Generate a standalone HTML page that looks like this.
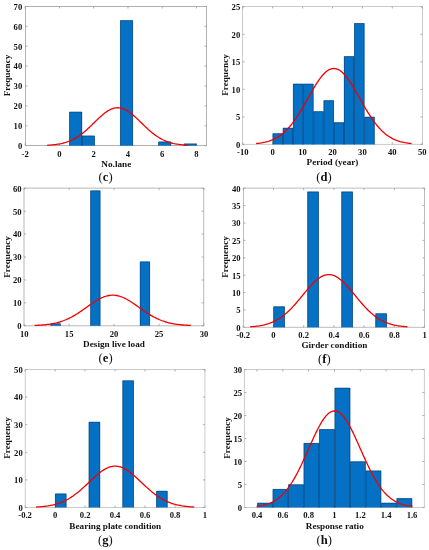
<!DOCTYPE html>
<html><head><meta charset="utf-8"><style>
html,body{margin:0;padding:0;background:#fff;width:429px;height:550px;overflow:hidden;position:relative}
svg{will-change:transform}
.t{font-family:"Liberation Serif",serif;font-weight:bold;fill:#111}
</style></head><body>
<svg width="429" height="550" viewBox="0 0 429 550" style="position:absolute;left:0;top:0">
<rect x="25.5" y="6.5" width="181.00" height="139.00" fill="none" stroke="#b0b0b0" stroke-width="1"/>
<line x1="25.12" y1="145.5" x2="25.12" y2="143.5" stroke="#9a9a9a" stroke-width="0.8"/>
<line x1="25.12" y1="6.5" x2="25.12" y2="8.5" stroke="#9a9a9a" stroke-width="0.8"/>
<line x1="59.40" y1="145.5" x2="59.40" y2="143.5" stroke="#9a9a9a" stroke-width="0.8"/>
<line x1="59.40" y1="6.5" x2="59.40" y2="8.5" stroke="#9a9a9a" stroke-width="0.8"/>
<line x1="93.68" y1="145.5" x2="93.68" y2="143.5" stroke="#9a9a9a" stroke-width="0.8"/>
<line x1="93.68" y1="6.5" x2="93.68" y2="8.5" stroke="#9a9a9a" stroke-width="0.8"/>
<line x1="127.96" y1="145.5" x2="127.96" y2="143.5" stroke="#9a9a9a" stroke-width="0.8"/>
<line x1="127.96" y1="6.5" x2="127.96" y2="8.5" stroke="#9a9a9a" stroke-width="0.8"/>
<line x1="162.24" y1="145.5" x2="162.24" y2="143.5" stroke="#9a9a9a" stroke-width="0.8"/>
<line x1="162.24" y1="6.5" x2="162.24" y2="8.5" stroke="#9a9a9a" stroke-width="0.8"/>
<line x1="196.52" y1="145.5" x2="196.52" y2="143.5" stroke="#9a9a9a" stroke-width="0.8"/>
<line x1="196.52" y1="6.5" x2="196.52" y2="8.5" stroke="#9a9a9a" stroke-width="0.8"/>
<line x1="25.5" y1="145.70" x2="27.5" y2="145.70" stroke="#9a9a9a" stroke-width="0.8"/>
<line x1="206.5" y1="145.70" x2="204.5" y2="145.70" stroke="#9a9a9a" stroke-width="0.8"/>
<line x1="25.5" y1="125.80" x2="27.5" y2="125.80" stroke="#9a9a9a" stroke-width="0.8"/>
<line x1="206.5" y1="125.80" x2="204.5" y2="125.80" stroke="#9a9a9a" stroke-width="0.8"/>
<line x1="25.5" y1="105.90" x2="27.5" y2="105.90" stroke="#9a9a9a" stroke-width="0.8"/>
<line x1="206.5" y1="105.90" x2="204.5" y2="105.90" stroke="#9a9a9a" stroke-width="0.8"/>
<line x1="25.5" y1="86.00" x2="27.5" y2="86.00" stroke="#9a9a9a" stroke-width="0.8"/>
<line x1="206.5" y1="86.00" x2="204.5" y2="86.00" stroke="#9a9a9a" stroke-width="0.8"/>
<line x1="25.5" y1="66.10" x2="27.5" y2="66.10" stroke="#9a9a9a" stroke-width="0.8"/>
<line x1="206.5" y1="66.10" x2="204.5" y2="66.10" stroke="#9a9a9a" stroke-width="0.8"/>
<line x1="25.5" y1="46.20" x2="27.5" y2="46.20" stroke="#9a9a9a" stroke-width="0.8"/>
<line x1="206.5" y1="46.20" x2="204.5" y2="46.20" stroke="#9a9a9a" stroke-width="0.8"/>
<line x1="25.5" y1="26.30" x2="27.5" y2="26.30" stroke="#9a9a9a" stroke-width="0.8"/>
<line x1="206.5" y1="26.30" x2="204.5" y2="26.30" stroke="#9a9a9a" stroke-width="0.8"/>
<line x1="25.5" y1="6.40" x2="27.5" y2="6.40" stroke="#9a9a9a" stroke-width="0.8"/>
<line x1="206.5" y1="6.40" x2="204.5" y2="6.40" stroke="#9a9a9a" stroke-width="0.8"/>
<rect x="69.30" y="111.87" width="12.72" height="33.83" fill="#0571c4"/>
<path d="M69.55,145.70V112.12H81.77V145.70" fill="none" stroke="#062f5a" stroke-width="0.5"/>
<rect x="82.02" y="135.75" width="12.72" height="9.95" fill="#0571c4"/>
<path d="M82.27,145.70V136.00H94.49V145.70" fill="none" stroke="#062f5a" stroke-width="0.5"/>
<rect x="120.18" y="20.33" width="12.72" height="125.37" fill="#0571c4"/>
<path d="M120.43,145.70V20.58H132.65V145.70" fill="none" stroke="#062f5a" stroke-width="0.5"/>
<rect x="158.34" y="141.72" width="12.72" height="3.98" fill="#0571c4"/>
<path d="M158.59,145.70V141.97H170.81V145.70" fill="none" stroke="#062f5a" stroke-width="0.5"/>
<rect x="183.78" y="143.71" width="12.72" height="1.99" fill="#0571c4"/>
<path d="M184.03,145.70V143.96H196.25V145.70" fill="none" stroke="#062f5a" stroke-width="0.5"/>
<polyline points="47.13,145.28 48.30,145.21 49.48,145.13 50.66,145.05 51.83,144.95 53.01,144.83 54.18,144.71 55.36,144.57 56.53,144.41 57.71,144.23 58.89,144.03 60.06,143.81 61.24,143.57 62.41,143.30 63.59,143.00 64.76,142.68 65.94,142.32 67.12,141.94 68.29,141.51 69.47,141.06 70.64,140.56 71.82,140.03 73.00,139.46 74.17,138.84 75.35,138.19 76.52,137.49 77.70,136.75 78.87,135.97 80.05,135.14 81.23,134.28 82.40,133.37 83.58,132.43 84.75,131.45 85.93,130.44 87.11,129.39 88.28,128.32 89.46,127.22 90.63,126.10 91.81,124.97 92.98,123.82 94.16,122.67 95.34,121.52 96.51,120.38 97.69,119.24 98.86,118.13 100.04,117.04 101.21,115.98 102.39,114.96 103.57,113.99 104.74,113.06 105.92,112.19 107.09,111.39 108.27,110.65 109.45,109.99 110.62,109.40 111.80,108.90 112.97,108.49 114.15,108.16 115.32,107.92 116.50,107.78 117.68,107.73 118.85,107.78 120.03,107.92 121.20,108.16 122.38,108.49 123.56,108.90 124.73,109.40 125.91,109.99 127.08,110.65 128.26,111.39 129.43,112.19 130.61,113.06 131.79,113.99 132.96,114.96 134.14,115.98 135.31,117.04 136.49,118.13 137.66,119.24 138.84,120.38 140.02,121.52 141.19,122.67 142.37,123.82 143.54,124.97 144.72,126.10 145.90,127.22 147.07,128.32 148.25,129.39 149.42,130.44 150.60,131.45 151.77,132.43 152.95,133.37 154.13,134.28 155.30,135.14 156.48,135.97 157.65,136.75 158.83,137.49 160.00,138.19 161.18,138.84 162.36,139.46 163.53,140.03 164.71,140.56 165.88,141.06 167.06,141.51 168.24,141.94 169.41,142.32 170.59,142.68 171.76,143.00 172.94,143.30 174.11,143.57 175.29,143.81 176.47,144.03 177.64,144.23 178.82,144.41 179.99,144.57 181.17,144.71 182.35,144.83 183.52,144.95 184.70,145.05 185.87,145.13 187.05,145.21 188.22,145.28" fill="none" stroke="#f00000" stroke-width="1.3" stroke-linejoin="round"/>
<text x="25.12" y="157.2" font-size="8.6" text-anchor="middle" class="t">-2</text>
<text x="59.40" y="157.2" font-size="8.6" text-anchor="middle" class="t">0</text>
<text x="93.68" y="157.2" font-size="8.6" text-anchor="middle" class="t">2</text>
<text x="127.96" y="157.2" font-size="8.6" text-anchor="middle" class="t">4</text>
<text x="162.24" y="157.2" font-size="8.6" text-anchor="middle" class="t">6</text>
<text x="196.52" y="157.2" font-size="8.6" text-anchor="middle" class="t">8</text>
<text x="22.20" y="149.00" font-size="8.6" text-anchor="end" class="t">0</text>
<text x="22.20" y="129.10" font-size="8.6" text-anchor="end" class="t">10</text>
<text x="22.20" y="109.20" font-size="8.6" text-anchor="end" class="t">20</text>
<text x="22.20" y="89.30" font-size="8.6" text-anchor="end" class="t">30</text>
<text x="22.20" y="69.40" font-size="8.6" text-anchor="end" class="t">40</text>
<text x="22.20" y="49.50" font-size="8.6" text-anchor="end" class="t">50</text>
<text x="22.20" y="29.60" font-size="8.6" text-anchor="end" class="t">60</text>
<text x="22.20" y="9.70" font-size="8.6" text-anchor="end" class="t">70</text>
<text x="116.3" y="167.0" font-size="9.2" text-anchor="middle" class="t">No.lane</text>
<text transform="translate(10.3,75.5) rotate(-90)" x="0" y="0" font-size="9.2" text-anchor="middle" class="t">Frequency</text>
<text x="105.6" y="180.6" font-size="12.6" text-anchor="middle" class="t"><tspan font-weight="normal">(</tspan>c<tspan font-weight="normal">)</tspan></text>
<rect x="242.5" y="6.5" width="180.00" height="137.90" fill="none" stroke="#cbcbcb" stroke-width="1"/>
<line x1="242.80" y1="144.4" x2="242.80" y2="142.4" stroke="#9a9a9a" stroke-width="0.8"/>
<line x1="242.80" y1="6.5" x2="242.80" y2="8.5" stroke="#9a9a9a" stroke-width="0.8"/>
<line x1="272.70" y1="144.4" x2="272.70" y2="142.4" stroke="#9a9a9a" stroke-width="0.8"/>
<line x1="272.70" y1="6.5" x2="272.70" y2="8.5" stroke="#9a9a9a" stroke-width="0.8"/>
<line x1="302.60" y1="144.4" x2="302.60" y2="142.4" stroke="#9a9a9a" stroke-width="0.8"/>
<line x1="302.60" y1="6.5" x2="302.60" y2="8.5" stroke="#9a9a9a" stroke-width="0.8"/>
<line x1="332.50" y1="144.4" x2="332.50" y2="142.4" stroke="#9a9a9a" stroke-width="0.8"/>
<line x1="332.50" y1="6.5" x2="332.50" y2="8.5" stroke="#9a9a9a" stroke-width="0.8"/>
<line x1="362.40" y1="144.4" x2="362.40" y2="142.4" stroke="#9a9a9a" stroke-width="0.8"/>
<line x1="362.40" y1="6.5" x2="362.40" y2="8.5" stroke="#9a9a9a" stroke-width="0.8"/>
<line x1="392.30" y1="144.4" x2="392.30" y2="142.4" stroke="#9a9a9a" stroke-width="0.8"/>
<line x1="392.30" y1="6.5" x2="392.30" y2="8.5" stroke="#9a9a9a" stroke-width="0.8"/>
<line x1="422.20" y1="144.4" x2="422.20" y2="142.4" stroke="#9a9a9a" stroke-width="0.8"/>
<line x1="422.20" y1="6.5" x2="422.20" y2="8.5" stroke="#9a9a9a" stroke-width="0.8"/>
<line x1="242.5" y1="144.45" x2="244.5" y2="144.45" stroke="#9a9a9a" stroke-width="0.8"/>
<line x1="422.5" y1="144.45" x2="420.5" y2="144.45" stroke="#9a9a9a" stroke-width="0.8"/>
<line x1="242.5" y1="116.91" x2="244.5" y2="116.91" stroke="#9a9a9a" stroke-width="0.8"/>
<line x1="422.5" y1="116.91" x2="420.5" y2="116.91" stroke="#9a9a9a" stroke-width="0.8"/>
<line x1="242.5" y1="89.37" x2="244.5" y2="89.37" stroke="#9a9a9a" stroke-width="0.8"/>
<line x1="422.5" y1="89.37" x2="420.5" y2="89.37" stroke="#9a9a9a" stroke-width="0.8"/>
<line x1="242.5" y1="61.83" x2="244.5" y2="61.83" stroke="#9a9a9a" stroke-width="0.8"/>
<line x1="422.5" y1="61.83" x2="420.5" y2="61.83" stroke="#9a9a9a" stroke-width="0.8"/>
<line x1="242.5" y1="34.29" x2="244.5" y2="34.29" stroke="#9a9a9a" stroke-width="0.8"/>
<line x1="422.5" y1="34.29" x2="420.5" y2="34.29" stroke="#9a9a9a" stroke-width="0.8"/>
<line x1="242.5" y1="6.75" x2="244.5" y2="6.75" stroke="#9a9a9a" stroke-width="0.8"/>
<line x1="422.5" y1="6.75" x2="420.5" y2="6.75" stroke="#9a9a9a" stroke-width="0.8"/>
<rect x="272.70" y="133.43" width="10.19" height="11.02" fill="#0571c4"/>
<path d="M272.95,144.45V133.68H282.64V144.45" fill="none" stroke="#062f5a" stroke-width="0.5"/>
<rect x="282.89" y="127.93" width="10.19" height="16.52" fill="#0571c4"/>
<path d="M283.14,144.45V128.18H292.83V144.45" fill="none" stroke="#062f5a" stroke-width="0.5"/>
<rect x="293.08" y="83.86" width="10.19" height="60.59" fill="#0571c4"/>
<path d="M293.33,144.45V84.11H303.02V144.45" fill="none" stroke="#062f5a" stroke-width="0.5"/>
<rect x="303.27" y="83.86" width="10.19" height="60.59" fill="#0571c4"/>
<path d="M303.52,144.45V84.11H313.21V144.45" fill="none" stroke="#062f5a" stroke-width="0.5"/>
<rect x="313.46" y="111.40" width="10.19" height="33.05" fill="#0571c4"/>
<path d="M313.71,144.45V111.65H323.40V144.45" fill="none" stroke="#062f5a" stroke-width="0.5"/>
<rect x="323.65" y="100.39" width="10.19" height="44.06" fill="#0571c4"/>
<path d="M323.90,144.45V100.64H333.59V144.45" fill="none" stroke="#062f5a" stroke-width="0.5"/>
<rect x="333.84" y="122.42" width="10.19" height="22.03" fill="#0571c4"/>
<path d="M334.09,144.45V122.67H343.78V144.45" fill="none" stroke="#062f5a" stroke-width="0.5"/>
<rect x="344.03" y="56.32" width="10.19" height="88.13" fill="#0571c4"/>
<path d="M344.28,144.45V56.57H353.97V144.45" fill="none" stroke="#062f5a" stroke-width="0.5"/>
<rect x="354.22" y="23.27" width="10.19" height="121.18" fill="#0571c4"/>
<path d="M354.47,144.45V23.52H364.16V144.45" fill="none" stroke="#062f5a" stroke-width="0.5"/>
<rect x="364.41" y="116.91" width="10.19" height="27.54" fill="#0571c4"/>
<path d="M364.66,144.45V117.16H374.35V144.45" fill="none" stroke="#062f5a" stroke-width="0.5"/>
<polyline points="256.08,143.61 257.37,143.47 258.67,143.32 259.96,143.14 261.26,142.94 262.56,142.72 263.85,142.46 265.15,142.18 266.44,141.86 267.74,141.51 269.04,141.11 270.33,140.67 271.63,140.18 272.93,139.65 274.22,139.05 275.52,138.40 276.81,137.69 278.11,136.91 279.41,136.07 280.70,135.15 282.00,134.16 283.30,133.10 284.59,131.95 285.89,130.72 287.18,129.41 288.48,128.01 289.78,126.53 291.07,124.97 292.37,123.32 293.66,121.59 294.96,119.77 296.26,117.88 297.55,115.92 298.85,113.89 300.15,111.80 301.44,109.65 302.74,107.45 304.03,105.21 305.33,102.94 306.63,100.65 307.92,98.35 309.22,96.04 310.51,93.75 311.81,91.49 313.11,89.26 314.40,87.08 315.70,84.96 317.00,82.91 318.29,80.96 319.59,79.11 320.88,77.37 322.18,75.76 323.48,74.28 324.77,72.96 326.07,71.79 327.36,70.78 328.66,69.95 329.96,69.29 331.25,68.82 332.55,68.54 333.85,68.44 335.14,68.54 336.44,68.82 337.73,69.29 339.03,69.95 340.33,70.78 341.62,71.79 342.92,72.96 344.21,74.28 345.51,75.76 346.81,77.37 348.10,79.11 349.40,80.96 350.70,82.91 351.99,84.96 353.29,87.08 354.58,89.26 355.88,91.49 357.18,93.75 358.47,96.04 359.77,98.35 361.06,100.65 362.36,102.94 363.66,105.21 364.95,107.45 366.25,109.65 367.55,111.80 368.84,113.89 370.14,115.92 371.43,117.88 372.73,119.77 374.03,121.59 375.32,123.32 376.62,124.97 377.92,126.53 379.21,128.01 380.51,129.41 381.80,130.72 383.10,131.95 384.40,133.10 385.69,134.16 386.99,135.15 388.28,136.07 389.58,136.91 390.88,137.69 392.17,138.40 393.47,139.05 394.77,139.65 396.06,140.18 397.36,140.67 398.65,141.11 399.95,141.51 401.25,141.86 402.54,142.18 403.84,142.46 405.13,142.72 406.43,142.94 407.73,143.14 409.02,143.32 410.32,143.47 411.62,143.61" fill="none" stroke="#f00000" stroke-width="1.3" stroke-linejoin="round"/>
<text x="242.80" y="155.3" font-size="8.6" text-anchor="middle" class="t">-10</text>
<text x="272.70" y="155.3" font-size="8.6" text-anchor="middle" class="t">0</text>
<text x="302.60" y="155.3" font-size="8.6" text-anchor="middle" class="t">10</text>
<text x="332.50" y="155.3" font-size="8.6" text-anchor="middle" class="t">20</text>
<text x="362.40" y="155.3" font-size="8.6" text-anchor="middle" class="t">30</text>
<text x="392.30" y="155.3" font-size="8.6" text-anchor="middle" class="t">40</text>
<text x="422.20" y="155.3" font-size="8.6" text-anchor="middle" class="t">50</text>
<text x="240.20" y="147.75" font-size="8.6" text-anchor="end" class="t">0</text>
<text x="240.20" y="120.21" font-size="8.6" text-anchor="end" class="t">5</text>
<text x="240.20" y="92.67" font-size="8.6" text-anchor="end" class="t">10</text>
<text x="240.20" y="65.13" font-size="8.6" text-anchor="end" class="t">15</text>
<text x="240.20" y="37.59" font-size="8.6" text-anchor="end" class="t">20</text>
<text x="240.20" y="10.05" font-size="8.6" text-anchor="end" class="t">25</text>
<text x="332.5" y="165.3" font-size="9.2" text-anchor="middle" class="t">Period (year)</text>
<text transform="translate(228,75) rotate(-90)" x="0" y="0" font-size="9.2" text-anchor="middle" class="t">Frequency</text>
<text x="324" y="181" font-size="12.6" text-anchor="middle" class="t"><tspan font-weight="normal">(</tspan>d<tspan font-weight="normal">)</tspan></text>
<rect x="24.0" y="188.1" width="179.70" height="137.70" fill="none" stroke="#b8b8b8" stroke-width="1"/>
<line x1="24.20" y1="325.8" x2="24.20" y2="323.8" stroke="#9a9a9a" stroke-width="0.8"/>
<line x1="24.20" y1="188.1" x2="24.20" y2="190.1" stroke="#9a9a9a" stroke-width="0.8"/>
<line x1="69.15" y1="325.8" x2="69.15" y2="323.8" stroke="#9a9a9a" stroke-width="0.8"/>
<line x1="69.15" y1="188.1" x2="69.15" y2="190.1" stroke="#9a9a9a" stroke-width="0.8"/>
<line x1="114.10" y1="325.8" x2="114.10" y2="323.8" stroke="#9a9a9a" stroke-width="0.8"/>
<line x1="114.10" y1="188.1" x2="114.10" y2="190.1" stroke="#9a9a9a" stroke-width="0.8"/>
<line x1="159.05" y1="325.8" x2="159.05" y2="323.8" stroke="#9a9a9a" stroke-width="0.8"/>
<line x1="159.05" y1="188.1" x2="159.05" y2="190.1" stroke="#9a9a9a" stroke-width="0.8"/>
<line x1="204.00" y1="325.8" x2="204.00" y2="323.8" stroke="#9a9a9a" stroke-width="0.8"/>
<line x1="204.00" y1="188.1" x2="204.00" y2="190.1" stroke="#9a9a9a" stroke-width="0.8"/>
<line x1="24.0" y1="325.80" x2="26.0" y2="325.80" stroke="#9a9a9a" stroke-width="0.8"/>
<line x1="203.7" y1="325.80" x2="201.7" y2="325.80" stroke="#9a9a9a" stroke-width="0.8"/>
<line x1="24.0" y1="302.88" x2="26.0" y2="302.88" stroke="#9a9a9a" stroke-width="0.8"/>
<line x1="203.7" y1="302.88" x2="201.7" y2="302.88" stroke="#9a9a9a" stroke-width="0.8"/>
<line x1="24.0" y1="279.97" x2="26.0" y2="279.97" stroke="#9a9a9a" stroke-width="0.8"/>
<line x1="203.7" y1="279.97" x2="201.7" y2="279.97" stroke="#9a9a9a" stroke-width="0.8"/>
<line x1="24.0" y1="257.05" x2="26.0" y2="257.05" stroke="#9a9a9a" stroke-width="0.8"/>
<line x1="203.7" y1="257.05" x2="201.7" y2="257.05" stroke="#9a9a9a" stroke-width="0.8"/>
<line x1="24.0" y1="234.13" x2="26.0" y2="234.13" stroke="#9a9a9a" stroke-width="0.8"/>
<line x1="203.7" y1="234.13" x2="201.7" y2="234.13" stroke="#9a9a9a" stroke-width="0.8"/>
<line x1="24.0" y1="211.22" x2="26.0" y2="211.22" stroke="#9a9a9a" stroke-width="0.8"/>
<line x1="203.7" y1="211.22" x2="201.7" y2="211.22" stroke="#9a9a9a" stroke-width="0.8"/>
<line x1="24.0" y1="188.30" x2="26.0" y2="188.30" stroke="#9a9a9a" stroke-width="0.8"/>
<line x1="203.7" y1="188.30" x2="201.7" y2="188.30" stroke="#9a9a9a" stroke-width="0.8"/>
<rect x="50.70" y="323.51" width="9.92" height="2.29" fill="#0571c4"/>
<path d="M50.95,325.80V323.76H60.37V325.80" fill="none" stroke="#062f5a" stroke-width="0.5"/>
<rect x="90.38" y="190.59" width="9.92" height="135.21" fill="#0571c4"/>
<path d="M90.63,325.80V190.84H100.05V325.80" fill="none" stroke="#062f5a" stroke-width="0.5"/>
<rect x="139.98" y="261.63" width="9.92" height="64.17" fill="#0571c4"/>
<path d="M140.23,325.80V261.88H149.65V325.80" fill="none" stroke="#062f5a" stroke-width="0.5"/>
<polyline points="34.62,325.46 35.92,325.40 37.22,325.34 38.53,325.27 39.83,325.19 41.13,325.10 42.43,325.00 43.73,324.88 45.04,324.76 46.34,324.61 47.64,324.45 48.94,324.28 50.25,324.08 51.55,323.86 52.85,323.62 54.15,323.36 55.45,323.07 56.76,322.76 58.06,322.42 59.36,322.05 60.66,321.65 61.97,321.22 63.27,320.76 64.57,320.26 65.87,319.74 67.17,319.17 68.48,318.58 69.78,317.94 71.08,317.28 72.38,316.58 73.69,315.85 74.99,315.09 76.29,314.30 77.59,313.48 78.89,312.64 80.20,311.77 81.50,310.88 82.80,309.98 84.10,309.07 85.41,308.14 86.71,307.21 88.01,306.28 89.31,305.36 90.61,304.45 91.92,303.55 93.22,302.67 94.52,301.81 95.82,300.99 97.13,300.20 98.43,299.46 99.73,298.76 101.03,298.11 102.33,297.51 103.64,296.98 104.94,296.50 106.24,296.10 107.54,295.76 108.84,295.50 110.15,295.31 111.45,295.19 112.75,295.15 114.05,295.19 115.36,295.31 116.66,295.50 117.96,295.76 119.26,296.10 120.56,296.50 121.87,296.98 123.17,297.51 124.47,298.11 125.77,298.76 127.08,299.46 128.38,300.20 129.68,300.99 130.98,301.81 132.28,302.67 133.59,303.55 134.89,304.45 136.19,305.36 137.49,306.28 138.80,307.21 140.10,308.14 141.40,309.07 142.70,309.98 144.00,310.88 145.31,311.77 146.61,312.64 147.91,313.48 149.21,314.30 150.52,315.09 151.82,315.85 153.12,316.58 154.42,317.28 155.72,317.94 157.03,318.58 158.33,319.17 159.63,319.74 160.93,320.26 162.24,320.76 163.54,321.22 164.84,321.65 166.14,322.05 167.44,322.42 168.75,322.76 170.05,323.07 171.35,323.36 172.65,323.62 173.95,323.86 175.26,324.08 176.56,324.28 177.86,324.45 179.16,324.61 180.47,324.76 181.77,324.88 183.07,325.00 184.37,325.10 185.67,325.19 186.98,325.27 188.28,325.34 189.58,325.40 190.88,325.46" fill="none" stroke="#f00000" stroke-width="1.3" stroke-linejoin="round"/>
<text x="24.20" y="336.9" font-size="8.6" text-anchor="middle" class="t">10</text>
<text x="69.15" y="336.9" font-size="8.6" text-anchor="middle" class="t">15</text>
<text x="114.10" y="336.9" font-size="8.6" text-anchor="middle" class="t">20</text>
<text x="159.05" y="336.9" font-size="8.6" text-anchor="middle" class="t">25</text>
<text x="204.00" y="336.9" font-size="8.6" text-anchor="middle" class="t">30</text>
<text x="21.50" y="329.10" font-size="8.6" text-anchor="end" class="t">0</text>
<text x="21.50" y="306.18" font-size="8.6" text-anchor="end" class="t">10</text>
<text x="21.50" y="283.27" font-size="8.6" text-anchor="end" class="t">20</text>
<text x="21.50" y="260.35" font-size="8.6" text-anchor="end" class="t">30</text>
<text x="21.50" y="237.43" font-size="8.6" text-anchor="end" class="t">40</text>
<text x="21.50" y="214.52" font-size="8.6" text-anchor="end" class="t">50</text>
<text x="21.50" y="191.60" font-size="8.6" text-anchor="end" class="t">60</text>
<text x="114" y="347.2" font-size="9.2" text-anchor="middle" class="t">Design live load</text>
<text transform="translate(9.5,257) rotate(-90)" x="0" y="0" font-size="9.2" text-anchor="middle" class="t">Frequency</text>
<text x="105.6" y="362" font-size="12.6" text-anchor="middle" class="t"><tspan font-weight="normal">(</tspan>e<tspan font-weight="normal">)</tspan></text>
<rect x="243.5" y="188.1" width="181.00" height="139.20" fill="none" stroke="#bcbcbc" stroke-width="1"/>
<line x1="243.16" y1="327.3" x2="243.16" y2="325.3" stroke="#9a9a9a" stroke-width="0.8"/>
<line x1="243.16" y1="188.1" x2="243.16" y2="190.1" stroke="#9a9a9a" stroke-width="0.8"/>
<line x1="273.40" y1="327.3" x2="273.40" y2="325.3" stroke="#9a9a9a" stroke-width="0.8"/>
<line x1="273.40" y1="188.1" x2="273.40" y2="190.1" stroke="#9a9a9a" stroke-width="0.8"/>
<line x1="303.64" y1="327.3" x2="303.64" y2="325.3" stroke="#9a9a9a" stroke-width="0.8"/>
<line x1="303.64" y1="188.1" x2="303.64" y2="190.1" stroke="#9a9a9a" stroke-width="0.8"/>
<line x1="333.88" y1="327.3" x2="333.88" y2="325.3" stroke="#9a9a9a" stroke-width="0.8"/>
<line x1="333.88" y1="188.1" x2="333.88" y2="190.1" stroke="#9a9a9a" stroke-width="0.8"/>
<line x1="364.12" y1="327.3" x2="364.12" y2="325.3" stroke="#9a9a9a" stroke-width="0.8"/>
<line x1="364.12" y1="188.1" x2="364.12" y2="190.1" stroke="#9a9a9a" stroke-width="0.8"/>
<line x1="394.36" y1="327.3" x2="394.36" y2="325.3" stroke="#9a9a9a" stroke-width="0.8"/>
<line x1="394.36" y1="188.1" x2="394.36" y2="190.1" stroke="#9a9a9a" stroke-width="0.8"/>
<line x1="424.60" y1="327.3" x2="424.60" y2="325.3" stroke="#9a9a9a" stroke-width="0.8"/>
<line x1="424.60" y1="188.1" x2="424.60" y2="190.1" stroke="#9a9a9a" stroke-width="0.8"/>
<line x1="243.5" y1="327.40" x2="245.5" y2="327.40" stroke="#9a9a9a" stroke-width="0.8"/>
<line x1="424.5" y1="327.40" x2="422.5" y2="327.40" stroke="#9a9a9a" stroke-width="0.8"/>
<line x1="243.5" y1="310.00" x2="245.5" y2="310.00" stroke="#9a9a9a" stroke-width="0.8"/>
<line x1="424.5" y1="310.00" x2="422.5" y2="310.00" stroke="#9a9a9a" stroke-width="0.8"/>
<line x1="243.5" y1="292.60" x2="245.5" y2="292.60" stroke="#9a9a9a" stroke-width="0.8"/>
<line x1="424.5" y1="292.60" x2="422.5" y2="292.60" stroke="#9a9a9a" stroke-width="0.8"/>
<line x1="243.5" y1="275.20" x2="245.5" y2="275.20" stroke="#9a9a9a" stroke-width="0.8"/>
<line x1="424.5" y1="275.20" x2="422.5" y2="275.20" stroke="#9a9a9a" stroke-width="0.8"/>
<line x1="243.5" y1="257.80" x2="245.5" y2="257.80" stroke="#9a9a9a" stroke-width="0.8"/>
<line x1="424.5" y1="257.80" x2="422.5" y2="257.80" stroke="#9a9a9a" stroke-width="0.8"/>
<line x1="243.5" y1="240.40" x2="245.5" y2="240.40" stroke="#9a9a9a" stroke-width="0.8"/>
<line x1="424.5" y1="240.40" x2="422.5" y2="240.40" stroke="#9a9a9a" stroke-width="0.8"/>
<line x1="243.5" y1="223.00" x2="245.5" y2="223.00" stroke="#9a9a9a" stroke-width="0.8"/>
<line x1="424.5" y1="223.00" x2="422.5" y2="223.00" stroke="#9a9a9a" stroke-width="0.8"/>
<line x1="243.5" y1="205.60" x2="245.5" y2="205.60" stroke="#9a9a9a" stroke-width="0.8"/>
<line x1="424.5" y1="205.60" x2="422.5" y2="205.60" stroke="#9a9a9a" stroke-width="0.8"/>
<line x1="243.5" y1="188.20" x2="245.5" y2="188.20" stroke="#9a9a9a" stroke-width="0.8"/>
<line x1="424.5" y1="188.20" x2="422.5" y2="188.20" stroke="#9a9a9a" stroke-width="0.8"/>
<rect x="273.40" y="306.52" width="11.34" height="20.88" fill="#0571c4"/>
<path d="M273.65,327.40V306.77H284.49V327.40" fill="none" stroke="#062f5a" stroke-width="0.5"/>
<rect x="307.42" y="191.68" width="11.34" height="135.72" fill="#0571c4"/>
<path d="M307.67,327.40V191.93H318.51V327.40" fill="none" stroke="#062f5a" stroke-width="0.5"/>
<rect x="341.44" y="191.68" width="11.34" height="135.72" fill="#0571c4"/>
<path d="M341.69,327.40V191.93H352.53V327.40" fill="none" stroke="#062f5a" stroke-width="0.5"/>
<rect x="375.46" y="313.48" width="11.34" height="13.92" fill="#0571c4"/>
<path d="M375.71,327.40V313.73H386.55V327.40" fill="none" stroke="#062f5a" stroke-width="0.5"/>
<polyline points="250.12,326.81 251.43,326.72 252.74,326.61 254.05,326.49 255.36,326.35 256.67,326.20 257.99,326.02 259.30,325.82 260.61,325.60 261.92,325.35 263.23,325.08 264.54,324.77 265.86,324.44 267.17,324.06 268.48,323.65 269.79,323.20 271.10,322.70 272.41,322.16 273.73,321.58 275.04,320.94 276.35,320.25 277.66,319.51 278.97,318.71 280.28,317.86 281.60,316.95 282.91,315.98 284.22,314.95 285.53,313.86 286.84,312.72 288.15,311.51 289.46,310.25 290.78,308.94 292.09,307.58 293.40,306.17 294.71,304.71 296.02,303.22 297.33,301.69 298.65,300.14 299.96,298.56 301.27,296.97 302.58,295.37 303.89,293.77 305.20,292.18 306.52,290.60 307.83,289.05 309.14,287.54 310.45,286.06 311.76,284.64 313.07,283.29 314.39,282.00 315.70,280.79 317.01,279.67 318.32,278.65 319.63,277.73 320.94,276.91 322.26,276.21 323.57,275.63 324.88,275.18 326.19,274.85 327.50,274.65 328.81,274.59 330.13,274.65 331.44,274.85 332.75,275.18 334.06,275.63 335.37,276.21 336.68,276.91 338.00,277.73 339.31,278.65 340.62,279.67 341.93,280.79 343.24,282.00 344.55,283.29 345.87,284.64 347.18,286.06 348.49,287.54 349.80,289.05 351.11,290.60 352.42,292.18 353.74,293.77 355.05,295.37 356.36,296.97 357.67,298.56 358.98,300.14 360.29,301.69 361.61,303.22 362.92,304.71 364.23,306.17 365.54,307.58 366.85,308.94 368.16,310.25 369.48,311.51 370.79,312.72 372.10,313.86 373.41,314.95 374.72,315.98 376.03,316.95 377.35,317.86 378.66,318.71 379.97,319.51 381.28,320.25 382.59,320.94 383.90,321.58 385.22,322.16 386.53,322.70 387.84,323.20 389.15,323.65 390.46,324.06 391.77,324.44 393.09,324.77 394.40,325.08 395.71,325.35 397.02,325.60 398.33,325.82 399.64,326.02 400.96,326.20 402.27,326.35 403.58,326.49 404.89,326.61 406.20,326.72 407.51,326.81" fill="none" stroke="#f00000" stroke-width="1.3" stroke-linejoin="round"/>
<text x="243.16" y="338.3" font-size="8.6" text-anchor="middle" class="t">-0.2</text>
<text x="273.40" y="338.3" font-size="8.6" text-anchor="middle" class="t">0</text>
<text x="303.64" y="338.3" font-size="8.6" text-anchor="middle" class="t">0.2</text>
<text x="333.88" y="338.3" font-size="8.6" text-anchor="middle" class="t">0.4</text>
<text x="364.12" y="338.3" font-size="8.6" text-anchor="middle" class="t">0.6</text>
<text x="394.36" y="338.3" font-size="8.6" text-anchor="middle" class="t">0.8</text>
<text x="424.60" y="338.3" font-size="8.6" text-anchor="middle" class="t">1</text>
<text x="240.60" y="330.70" font-size="8.6" text-anchor="end" class="t">0</text>
<text x="240.60" y="313.30" font-size="8.6" text-anchor="end" class="t">5</text>
<text x="240.60" y="295.90" font-size="8.6" text-anchor="end" class="t">10</text>
<text x="240.60" y="278.50" font-size="8.6" text-anchor="end" class="t">15</text>
<text x="240.60" y="261.10" font-size="8.6" text-anchor="end" class="t">20</text>
<text x="240.60" y="243.70" font-size="8.6" text-anchor="end" class="t">25</text>
<text x="240.60" y="226.30" font-size="8.6" text-anchor="end" class="t">30</text>
<text x="240.60" y="208.90" font-size="8.6" text-anchor="end" class="t">35</text>
<text x="240.60" y="191.50" font-size="8.6" text-anchor="end" class="t">40</text>
<text x="334.4" y="347.9" font-size="9.2" text-anchor="middle" class="t">Girder condition</text>
<text transform="translate(228.4,257) rotate(-90)" x="0" y="0" font-size="9.2" text-anchor="middle" class="t">Frequency</text>
<text x="324.4" y="363.3" font-size="12.6" text-anchor="middle" class="t"><tspan font-weight="normal">(</tspan>f<tspan font-weight="normal">)</tspan></text>
<rect x="25.3" y="369.5" width="179.60" height="138.00" fill="none" stroke="#cbcbcb" stroke-width="1"/>
<line x1="25.12" y1="507.5" x2="25.12" y2="505.5" stroke="#9a9a9a" stroke-width="0.8"/>
<line x1="25.12" y1="369.5" x2="25.12" y2="371.5" stroke="#9a9a9a" stroke-width="0.8"/>
<line x1="55.10" y1="507.5" x2="55.10" y2="505.5" stroke="#9a9a9a" stroke-width="0.8"/>
<line x1="55.10" y1="369.5" x2="55.10" y2="371.5" stroke="#9a9a9a" stroke-width="0.8"/>
<line x1="85.08" y1="507.5" x2="85.08" y2="505.5" stroke="#9a9a9a" stroke-width="0.8"/>
<line x1="85.08" y1="369.5" x2="85.08" y2="371.5" stroke="#9a9a9a" stroke-width="0.8"/>
<line x1="115.06" y1="507.5" x2="115.06" y2="505.5" stroke="#9a9a9a" stroke-width="0.8"/>
<line x1="115.06" y1="369.5" x2="115.06" y2="371.5" stroke="#9a9a9a" stroke-width="0.8"/>
<line x1="145.04" y1="507.5" x2="145.04" y2="505.5" stroke="#9a9a9a" stroke-width="0.8"/>
<line x1="145.04" y1="369.5" x2="145.04" y2="371.5" stroke="#9a9a9a" stroke-width="0.8"/>
<line x1="175.02" y1="507.5" x2="175.02" y2="505.5" stroke="#9a9a9a" stroke-width="0.8"/>
<line x1="175.02" y1="369.5" x2="175.02" y2="371.5" stroke="#9a9a9a" stroke-width="0.8"/>
<line x1="205.00" y1="507.5" x2="205.00" y2="505.5" stroke="#9a9a9a" stroke-width="0.8"/>
<line x1="205.00" y1="369.5" x2="205.00" y2="371.5" stroke="#9a9a9a" stroke-width="0.8"/>
<line x1="25.3" y1="507.50" x2="27.3" y2="507.50" stroke="#9a9a9a" stroke-width="0.8"/>
<line x1="204.9" y1="507.50" x2="202.9" y2="507.50" stroke="#9a9a9a" stroke-width="0.8"/>
<line x1="25.3" y1="479.90" x2="27.3" y2="479.90" stroke="#9a9a9a" stroke-width="0.8"/>
<line x1="204.9" y1="479.90" x2="202.9" y2="479.90" stroke="#9a9a9a" stroke-width="0.8"/>
<line x1="25.3" y1="452.30" x2="27.3" y2="452.30" stroke="#9a9a9a" stroke-width="0.8"/>
<line x1="204.9" y1="452.30" x2="202.9" y2="452.30" stroke="#9a9a9a" stroke-width="0.8"/>
<line x1="25.3" y1="424.70" x2="27.3" y2="424.70" stroke="#9a9a9a" stroke-width="0.8"/>
<line x1="204.9" y1="424.70" x2="202.9" y2="424.70" stroke="#9a9a9a" stroke-width="0.8"/>
<line x1="25.3" y1="397.10" x2="27.3" y2="397.10" stroke="#9a9a9a" stroke-width="0.8"/>
<line x1="204.9" y1="397.10" x2="202.9" y2="397.10" stroke="#9a9a9a" stroke-width="0.8"/>
<line x1="25.3" y1="369.50" x2="27.3" y2="369.50" stroke="#9a9a9a" stroke-width="0.8"/>
<line x1="204.9" y1="369.50" x2="202.9" y2="369.50" stroke="#9a9a9a" stroke-width="0.8"/>
<rect x="55.10" y="493.70" width="11.24" height="13.80" fill="#0571c4"/>
<path d="M55.35,507.50V493.95H66.09V507.50" fill="none" stroke="#062f5a" stroke-width="0.5"/>
<rect x="88.82" y="421.94" width="11.24" height="85.56" fill="#0571c4"/>
<path d="M89.07,507.50V422.19H99.81V507.50" fill="none" stroke="#062f5a" stroke-width="0.5"/>
<rect x="122.54" y="380.54" width="11.24" height="126.96" fill="#0571c4"/>
<path d="M122.79,507.50V380.79H133.53V507.50" fill="none" stroke="#062f5a" stroke-width="0.5"/>
<rect x="156.26" y="490.94" width="11.24" height="16.56" fill="#0571c4"/>
<path d="M156.51,507.50V491.19H167.25V507.50" fill="none" stroke="#062f5a" stroke-width="0.5"/>
<polyline points="36.09,507.04 37.41,506.97 38.73,506.88 40.05,506.79 41.36,506.68 42.68,506.56 44.00,506.42 45.32,506.27 46.63,506.09 47.95,505.90 49.27,505.68 50.59,505.44 51.90,505.18 53.22,504.89 54.54,504.56 55.86,504.21 57.17,503.82 58.49,503.40 59.81,502.94 61.13,502.44 62.45,501.91 63.76,501.32 65.08,500.70 66.40,500.03 67.72,499.32 69.03,498.56 70.35,497.75 71.67,496.90 72.99,496.01 74.30,495.06 75.62,494.08 76.94,493.05 78.26,491.99 79.57,490.88 80.89,489.74 82.21,488.57 83.53,487.38 84.84,486.16 86.16,484.93 87.48,483.68 88.80,482.43 90.12,481.17 91.43,479.93 92.75,478.70 94.07,477.48 95.39,476.30 96.70,475.14 98.02,474.03 99.34,472.97 100.66,471.96 101.97,471.02 103.29,470.14 104.61,469.34 105.93,468.62 107.24,467.98 108.56,467.43 109.88,466.98 111.20,466.62 112.51,466.37 113.83,466.21 115.15,466.16 116.47,466.21 117.79,466.37 119.10,466.62 120.42,466.98 121.74,467.43 123.06,467.98 124.37,468.62 125.69,469.34 127.01,470.14 128.33,471.02 129.64,471.96 130.96,472.97 132.28,474.03 133.60,475.14 134.91,476.30 136.23,477.48 137.55,478.70 138.87,479.93 140.18,481.17 141.50,482.43 142.82,483.68 144.14,484.93 145.46,486.16 146.77,487.38 148.09,488.57 149.41,489.74 150.73,490.88 152.04,491.99 153.36,493.05 154.68,494.08 156.00,495.06 157.31,496.01 158.63,496.90 159.95,497.75 161.27,498.56 162.58,499.32 163.90,500.03 165.22,500.70 166.54,501.32 167.85,501.91 169.17,502.44 170.49,502.94 171.81,503.40 173.13,503.82 174.44,504.21 175.76,504.56 177.08,504.89 178.40,505.18 179.71,505.44 181.03,505.68 182.35,505.90 183.67,506.09 184.98,506.27 186.30,506.42 187.62,506.56 188.94,506.68 190.25,506.79 191.57,506.88 192.89,506.97 194.21,507.04" fill="none" stroke="#f00000" stroke-width="1.3" stroke-linejoin="round"/>
<text x="25.12" y="518.3" font-size="8.6" text-anchor="middle" class="t">-0.2</text>
<text x="55.10" y="518.3" font-size="8.6" text-anchor="middle" class="t">0</text>
<text x="85.08" y="518.3" font-size="8.6" text-anchor="middle" class="t">0.2</text>
<text x="115.06" y="518.3" font-size="8.6" text-anchor="middle" class="t">0.4</text>
<text x="145.04" y="518.3" font-size="8.6" text-anchor="middle" class="t">0.6</text>
<text x="175.02" y="518.3" font-size="8.6" text-anchor="middle" class="t">0.8</text>
<text x="205.00" y="518.3" font-size="8.6" text-anchor="middle" class="t">1</text>
<text x="22.70" y="510.80" font-size="8.6" text-anchor="end" class="t">0</text>
<text x="22.70" y="483.20" font-size="8.6" text-anchor="end" class="t">10</text>
<text x="22.70" y="455.60" font-size="8.6" text-anchor="end" class="t">20</text>
<text x="22.70" y="428.00" font-size="8.6" text-anchor="end" class="t">30</text>
<text x="22.70" y="400.40" font-size="8.6" text-anchor="end" class="t">40</text>
<text x="22.70" y="372.80" font-size="8.6" text-anchor="end" class="t">50</text>
<text x="115.3" y="528.9" font-size="9.2" text-anchor="middle" class="t">Bearing plate condition</text>
<text transform="translate(10,438) rotate(-90)" x="0" y="0" font-size="9.2" text-anchor="middle" class="t">Frequency</text>
<text x="105.4" y="544.2" font-size="12.6" text-anchor="middle" class="t"><tspan font-weight="normal">(</tspan>g<tspan font-weight="normal">)</tspan></text>
<rect x="244.4" y="369.5" width="180.00" height="138.00" fill="none" stroke="#cbcbcb" stroke-width="1"/>
<line x1="257.00" y1="507.5" x2="257.00" y2="505.5" stroke="#9a9a9a" stroke-width="0.8"/>
<line x1="257.00" y1="369.5" x2="257.00" y2="371.5" stroke="#9a9a9a" stroke-width="0.8"/>
<line x1="282.83" y1="507.5" x2="282.83" y2="505.5" stroke="#9a9a9a" stroke-width="0.8"/>
<line x1="282.83" y1="369.5" x2="282.83" y2="371.5" stroke="#9a9a9a" stroke-width="0.8"/>
<line x1="308.67" y1="507.5" x2="308.67" y2="505.5" stroke="#9a9a9a" stroke-width="0.8"/>
<line x1="308.67" y1="369.5" x2="308.67" y2="371.5" stroke="#9a9a9a" stroke-width="0.8"/>
<line x1="334.50" y1="507.5" x2="334.50" y2="505.5" stroke="#9a9a9a" stroke-width="0.8"/>
<line x1="334.50" y1="369.5" x2="334.50" y2="371.5" stroke="#9a9a9a" stroke-width="0.8"/>
<line x1="360.34" y1="507.5" x2="360.34" y2="505.5" stroke="#9a9a9a" stroke-width="0.8"/>
<line x1="360.34" y1="369.5" x2="360.34" y2="371.5" stroke="#9a9a9a" stroke-width="0.8"/>
<line x1="386.17" y1="507.5" x2="386.17" y2="505.5" stroke="#9a9a9a" stroke-width="0.8"/>
<line x1="386.17" y1="369.5" x2="386.17" y2="371.5" stroke="#9a9a9a" stroke-width="0.8"/>
<line x1="412.00" y1="507.5" x2="412.00" y2="505.5" stroke="#9a9a9a" stroke-width="0.8"/>
<line x1="412.00" y1="369.5" x2="412.00" y2="371.5" stroke="#9a9a9a" stroke-width="0.8"/>
<line x1="244.4" y1="507.50" x2="246.4" y2="507.50" stroke="#9a9a9a" stroke-width="0.8"/>
<line x1="424.4" y1="507.50" x2="422.4" y2="507.50" stroke="#9a9a9a" stroke-width="0.8"/>
<line x1="244.4" y1="484.50" x2="246.4" y2="484.50" stroke="#9a9a9a" stroke-width="0.8"/>
<line x1="424.4" y1="484.50" x2="422.4" y2="484.50" stroke="#9a9a9a" stroke-width="0.8"/>
<line x1="244.4" y1="461.50" x2="246.4" y2="461.50" stroke="#9a9a9a" stroke-width="0.8"/>
<line x1="424.4" y1="461.50" x2="422.4" y2="461.50" stroke="#9a9a9a" stroke-width="0.8"/>
<line x1="244.4" y1="438.50" x2="246.4" y2="438.50" stroke="#9a9a9a" stroke-width="0.8"/>
<line x1="424.4" y1="438.50" x2="422.4" y2="438.50" stroke="#9a9a9a" stroke-width="0.8"/>
<line x1="244.4" y1="415.50" x2="246.4" y2="415.50" stroke="#9a9a9a" stroke-width="0.8"/>
<line x1="424.4" y1="415.50" x2="422.4" y2="415.50" stroke="#9a9a9a" stroke-width="0.8"/>
<line x1="244.4" y1="392.50" x2="246.4" y2="392.50" stroke="#9a9a9a" stroke-width="0.8"/>
<line x1="424.4" y1="392.50" x2="422.4" y2="392.50" stroke="#9a9a9a" stroke-width="0.8"/>
<line x1="244.4" y1="369.50" x2="246.4" y2="369.50" stroke="#9a9a9a" stroke-width="0.8"/>
<line x1="424.4" y1="369.50" x2="422.4" y2="369.50" stroke="#9a9a9a" stroke-width="0.8"/>
<rect x="257.30" y="502.90" width="15.48" height="4.60" fill="#0571c4"/>
<path d="M257.55,507.50V503.15H272.53V507.50" fill="none" stroke="#062f5a" stroke-width="0.5"/>
<rect x="272.78" y="489.10" width="15.48" height="18.40" fill="#0571c4"/>
<path d="M273.03,507.50V489.35H288.01V507.50" fill="none" stroke="#062f5a" stroke-width="0.5"/>
<rect x="288.26" y="484.50" width="15.48" height="23.00" fill="#0571c4"/>
<path d="M288.51,507.50V484.75H303.49V507.50" fill="none" stroke="#062f5a" stroke-width="0.5"/>
<rect x="303.74" y="443.10" width="15.48" height="64.40" fill="#0571c4"/>
<path d="M303.99,507.50V443.35H318.97V507.50" fill="none" stroke="#062f5a" stroke-width="0.5"/>
<rect x="319.22" y="429.30" width="15.48" height="78.20" fill="#0571c4"/>
<path d="M319.47,507.50V429.55H334.45V507.50" fill="none" stroke="#062f5a" stroke-width="0.5"/>
<rect x="334.70" y="387.90" width="15.48" height="119.60" fill="#0571c4"/>
<path d="M334.95,507.50V388.15H349.93V507.50" fill="none" stroke="#062f5a" stroke-width="0.5"/>
<rect x="350.18" y="461.50" width="15.48" height="46.00" fill="#0571c4"/>
<path d="M350.43,507.50V461.75H365.41V507.50" fill="none" stroke="#062f5a" stroke-width="0.5"/>
<rect x="365.66" y="470.70" width="15.48" height="36.80" fill="#0571c4"/>
<path d="M365.91,507.50V470.95H380.89V507.50" fill="none" stroke="#062f5a" stroke-width="0.5"/>
<rect x="381.14" y="502.90" width="15.48" height="4.60" fill="#0571c4"/>
<path d="M381.39,507.50V503.15H396.37V507.50" fill="none" stroke="#062f5a" stroke-width="0.5"/>
<rect x="396.62" y="498.30" width="15.48" height="9.20" fill="#0571c4"/>
<path d="M396.87,507.50V498.55H411.85V507.50" fill="none" stroke="#062f5a" stroke-width="0.5"/>
<polyline points="256.77,506.43 258.06,506.25 259.36,506.06 260.65,505.84 261.95,505.58 263.25,505.30 264.54,504.98 265.84,504.62 267.13,504.21 268.43,503.76 269.72,503.26 271.02,502.70 272.31,502.08 273.61,501.39 274.91,500.64 276.20,499.81 277.50,498.91 278.79,497.92 280.09,496.85 281.38,495.68 282.68,494.43 283.97,493.07 285.27,491.61 286.57,490.05 287.86,488.38 289.16,486.61 290.45,484.73 291.75,482.74 293.04,480.64 294.34,478.44 295.63,476.14 296.93,473.74 298.23,471.24 299.52,468.66 300.82,466.00 302.11,463.27 303.41,460.48 304.70,457.63 306.00,454.75 307.29,451.83 308.59,448.91 309.89,445.98 311.18,443.07 312.48,440.18 313.77,437.35 315.07,434.58 316.36,431.89 317.66,429.29 318.96,426.81 320.25,424.45 321.55,422.25 322.84,420.20 324.14,418.32 325.43,416.63 326.73,415.15 328.02,413.87 329.32,412.81 330.62,411.98 331.91,411.38 333.21,411.02 334.50,410.89 335.80,411.02 337.09,411.38 338.39,411.98 339.68,412.81 340.98,413.87 342.28,415.15 343.57,416.63 344.87,418.32 346.16,420.20 347.46,422.25 348.75,424.45 350.05,426.81 351.34,429.29 352.64,431.89 353.94,434.58 355.23,437.35 356.53,440.18 357.82,443.07 359.12,445.98 360.41,448.91 361.71,451.83 363.00,454.75 364.30,457.63 365.60,460.48 366.89,463.27 368.19,466.00 369.48,468.66 370.78,471.24 372.07,473.74 373.37,476.14 374.66,478.44 375.96,480.64 377.26,482.74 378.55,484.73 379.85,486.61 381.14,488.38 382.44,490.05 383.73,491.61 385.03,493.07 386.33,494.43 387.62,495.68 388.92,496.85 390.21,497.92 391.51,498.91 392.80,499.81 394.10,500.64 395.39,501.39 396.69,502.08 397.99,502.70 399.28,503.26 400.58,503.76 401.87,504.21 403.17,504.62 404.46,504.98 405.76,505.30 407.05,505.58 408.35,505.84 409.65,506.06 410.94,506.25 412.24,506.43" fill="none" stroke="#f00000" stroke-width="1.3" stroke-linejoin="round"/>
<text x="257.00" y="518.3" font-size="8.6" text-anchor="middle" class="t">0.4</text>
<text x="282.83" y="518.3" font-size="8.6" text-anchor="middle" class="t">0.6</text>
<text x="308.67" y="518.3" font-size="8.6" text-anchor="middle" class="t">0.8</text>
<text x="334.50" y="518.3" font-size="8.6" text-anchor="middle" class="t">1</text>
<text x="360.34" y="518.3" font-size="8.6" text-anchor="middle" class="t">1.2</text>
<text x="386.17" y="518.3" font-size="8.6" text-anchor="middle" class="t">1.4</text>
<text x="412.00" y="518.3" font-size="8.6" text-anchor="middle" class="t">1.6</text>
<text x="242.10" y="510.80" font-size="8.6" text-anchor="end" class="t">0</text>
<text x="242.10" y="487.80" font-size="8.6" text-anchor="end" class="t">5</text>
<text x="242.10" y="464.80" font-size="8.6" text-anchor="end" class="t">10</text>
<text x="242.10" y="441.80" font-size="8.6" text-anchor="end" class="t">15</text>
<text x="242.10" y="418.80" font-size="8.6" text-anchor="end" class="t">20</text>
<text x="242.10" y="395.80" font-size="8.6" text-anchor="end" class="t">25</text>
<text x="242.10" y="372.80" font-size="8.6" text-anchor="end" class="t">30</text>
<text x="334.8" y="528.9" font-size="9.2" text-anchor="middle" class="t">Response ratio</text>
<text transform="translate(229.8,438) rotate(-90)" x="0" y="0" font-size="9.2" text-anchor="middle" class="t">Frequency</text>
<text x="324.3" y="544.3" font-size="12.6" text-anchor="middle" class="t"><tspan font-weight="normal">(</tspan>h<tspan font-weight="normal">)</tspan></text>
</svg>
</body></html>
